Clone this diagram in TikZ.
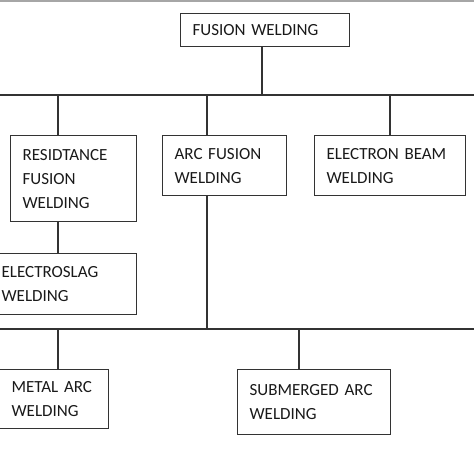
\documentclass[tikz,border=0pt]{standalone}
\usepackage{fontspec}
\setmainfont{Carlito}
\definecolor{lineGray}{HTML}{333333}
\definecolor{bandGray}{HTML}{A6A6A6}
\newcommand{\drawbox}[6]{
	\pgfmathsetmacro{\tw}{#4-24}
	\node[wbox, text width=\tw pt, minimum height=#5] (#1) at (#2,-#3) {#6};
}

\begin{document}
\begin{tikzpicture}[x=1pt,y=1pt,
	wbox/.style={draw=lineGray, line width=1.2pt, anchor=north west, align=left,
		inner xsep=12pt, inner ysep=0pt, text=black!90,
		font=\fontsize{17}{24}\selectfont},
	link/.style={draw=lineGray, line width=1.2pt}]
	\useasboundingbox (0,0) rectangle (474,-474);
	\fill[bandGray] (0,0) rectangle (474,-2);
	% boxes
	\drawbox{top}{180}{13}{169}{33}{FUSION WELDING}
	\drawbox{resist}{10}{135}{126}{86}{RESIDTANCE\\FUSION\\WELDING}
	\drawbox{arc}{162}{135}{124}{60}{ARC FUSION\\WELDING}
	\drawbox{beam}{314}{135}{151}{60}{ELECTRON BEAM\\WELDING}
	\drawbox{slag}{-11}{253}{147}{61}{ELECTROSLAG\\WELDING}
	\drawbox{metal}{-1}{369}{109}{59}{METAL ARC\\WELDING}
	\drawbox{sub}{237}{369}{153}{65}{SUBMERGED ARC\\WELDING}
	% bus lines
	\coordinate (busA) at (0,-95);
	\coordinate (busB) at (0,-329);
	\coordinate (t1) at (262,0);
	\coordinate (r1) at (58,0);
	\coordinate (a1) at (207,0);
	\coordinate (e1) at (390,0);
	\coordinate (s1) at (299,0);
	\draw[link] (busA) -- ++(474,0);
	\draw[link] (busB) -- ++(474,0);
	\draw[link] (t1 |- top.south) -- (t1 |- busA);
	\draw[link] (r1 |- busA) -- (r1 |- resist.north);
	\draw[link] (a1 |- busA) -- (a1 |- arc.north);
	\draw[link] (e1 |- busA) -- (e1 |- beam.north);
	\draw[link] (r1 |- resist.south) -- (r1 |- slag.north);
	\draw[link] (a1 |- arc.south) -- (a1 |- busB);
	\draw[link] (r1 |- busB) -- (r1 |- metal.north);
	\draw[link] (s1 |- busB) -- (s1 |- sub.north);
\end{tikzpicture}
\end{document}
